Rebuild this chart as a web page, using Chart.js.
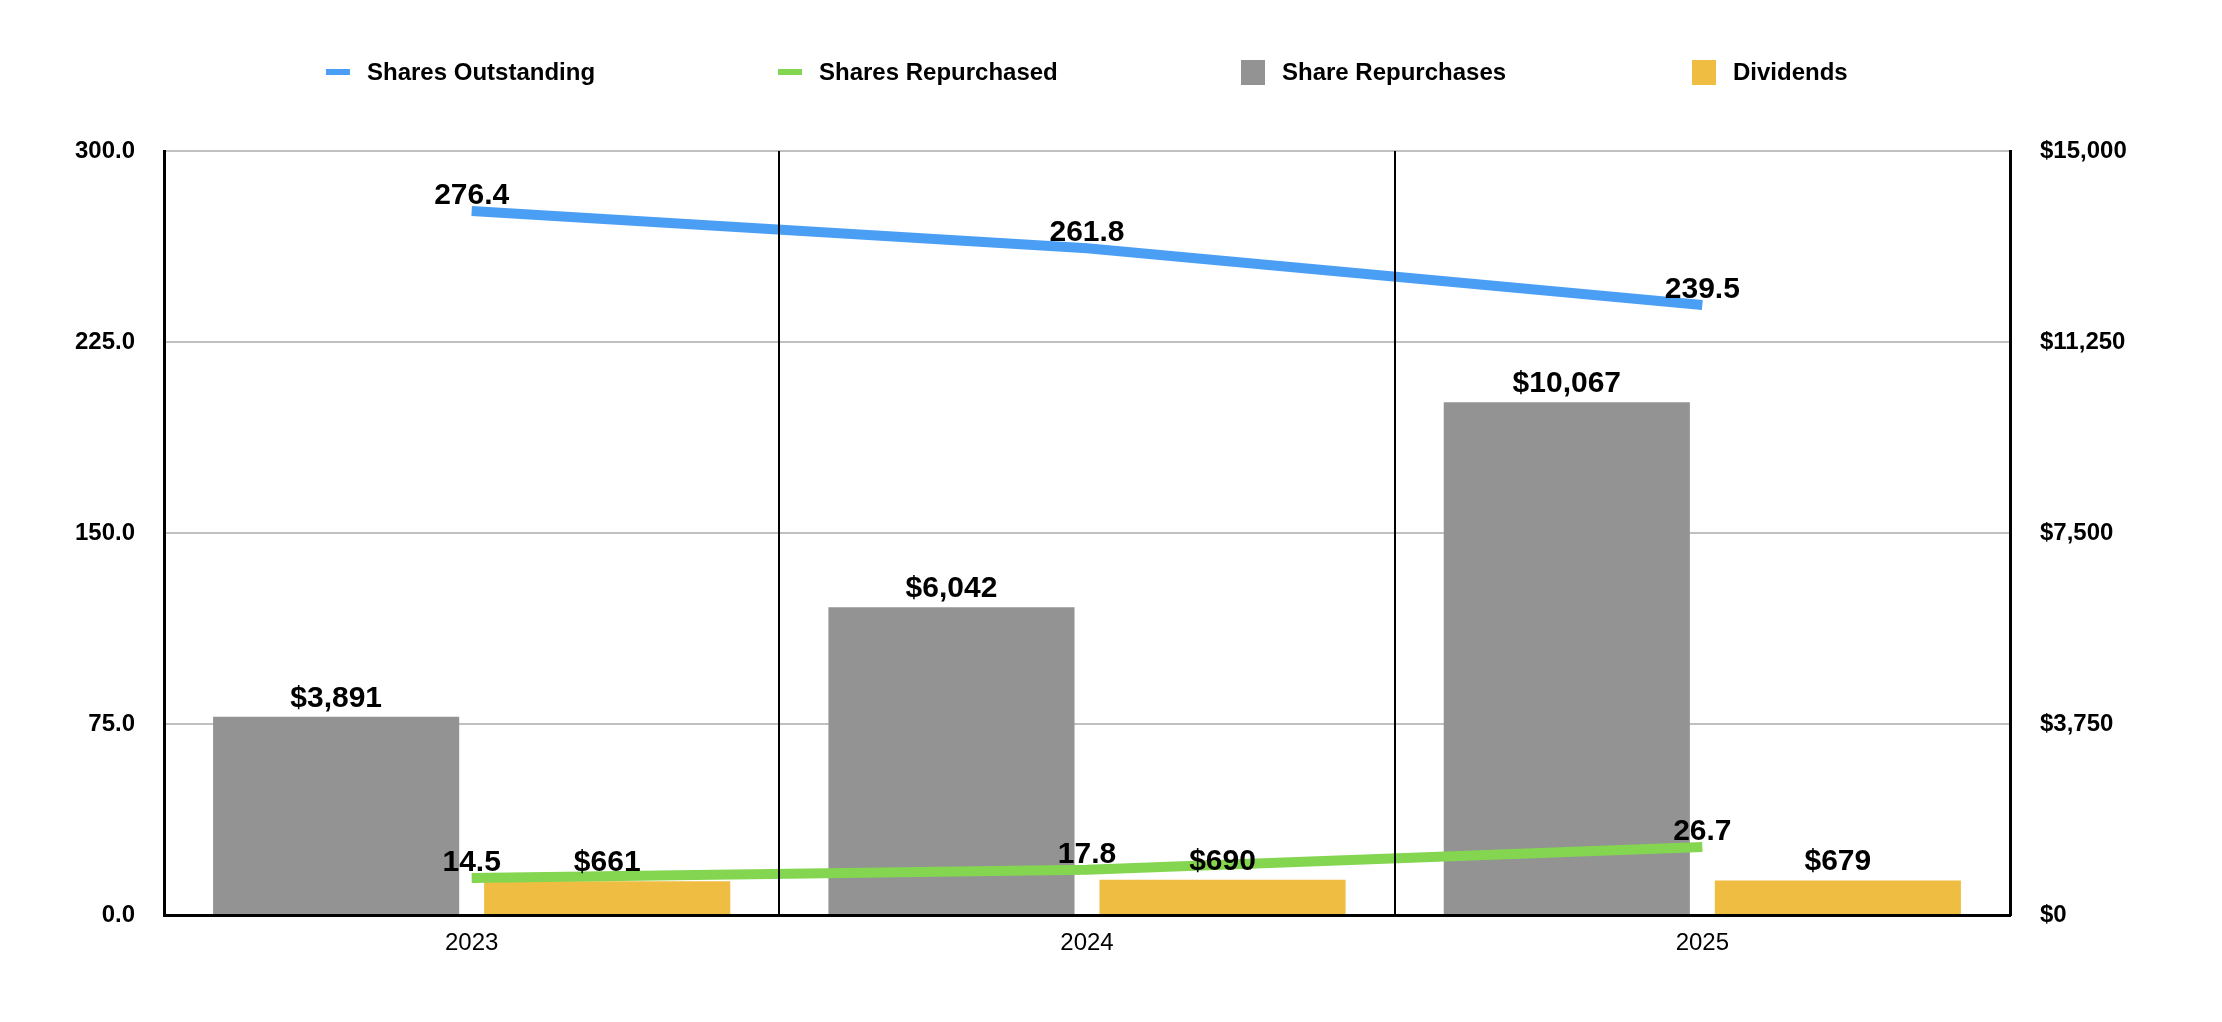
<!DOCTYPE html>
<html>
<head>
<meta charset="utf-8">
<title>Shares Outstanding, Buybacks and Dividends</title>
<script src="https://cdn.jsdelivr.net/npm/chart.js@4.4.1/dist/chart.umd.min.js"></script>
<style>
  html, body { margin: 0; padding: 0; background: #fff; }
  .wrap { position: relative; width: 2222px; height: 1022px; }
  #chart { position: absolute; left: 0; top: 0; }
  .legend { position: absolute; left: 0; top: 0; width: 2222px; height: 140px;
            font: bold 24px "Liberation Sans", Arial, sans-serif; color: #000; }
  .legend .item { position: absolute; top: 72px; transform: translateY(-50%);
                  display: flex; align-items: center; white-space: nowrap; }
  .legend .item:nth-child(1) { left: 326px; }
  .legend .item:nth-child(2) { left: 778px; }
  .legend .item:nth-child(3) { left: 1241px; }
  .legend .item:nth-child(4) { left: 1692px; }
  .legend .swatch { width: 24px; margin-right: 17px; }
  .legend .swatch.line { height: 6px; }
  .legend .swatch.box { height: 25px; }
</style>
</head>
<body>
<div class="wrap">
  <canvas id="chart"></canvas>
  <div class="legend" id="legend"></div>
</div>
<script>
// ===== DATA =====
const years = ['2023', '2024', '2025'];
const sharesOutstanding = [276.4, 261.8, 239.5];   // millions, left axis
const sharesRepurchased = [14.5, 17.8, 26.7];      // millions, left axis
const shareRepurchases = [3891, 6042, 10067];      // $M, right axis
const dividends = [661, 690, 679];                 // $M, right axis
const shareTicks = [0, 75, 150, 225, 300];
const dollarTicks = [0, 3750, 7500, 11250, 15000];

const FONT = '"Liberation Sans", Arial, sans-serif';
const fmtShares = v => v.toFixed(1);
const fmtDollars = v => '$' + v.toLocaleString('en-US');

Chart.defaults.font.family = FONT;
Chart.defaults.color = '#000';

// ===== VALUE LABELS above points / bars =====
const valueLabels = {
  id: 'valueLabels',
  afterDatasetsDraw(chart) {
    const ctx = chart.ctx;
    ctx.save();
    ctx.font = 'bold 30px ' + FONT;
    ctx.fillStyle = '#000';
    ctx.textAlign = 'center';
    ctx.textBaseline = 'alphabetic';
    chart.data.datasets.forEach((ds, i) => {
      const meta = chart.getDatasetMeta(i);
      const gap = ds.type === 'line' ? 7 : 10;
      meta.data.forEach((el, j) => {
        ctx.fillText(ds.fmt(ds.data[j]), el.x, el.y - gap);
      });
    });
    ctx.restore();
  }
};

const datasets = [
  {
    type: 'line', label: 'Shares Outstanding', data: sharesOutstanding, yAxisID: 'y',
    borderColor: '#4a9ff5', backgroundColor: '#4a9ff5', borderWidth: 10,
    borderCapStyle: 'butt', pointRadius: 0, tension: 0, fmt: fmtShares, swatch: 'line'
  },
  {
    type: 'line', label: 'Shares Repurchased', data: sharesRepurchased, yAxisID: 'y',
    borderColor: '#84d651', backgroundColor: '#84d651', borderWidth: 10,
    borderCapStyle: 'butt', pointRadius: 0, tension: 0, fmt: fmtShares, swatch: 'line'
  },
  {
    type: 'bar', label: 'Share Repurchases', data: shareRepurchases, yAxisID: 'y1',
    backgroundColor: '#939393', fmt: fmtDollars, swatch: 'box',
    categoryPercentage: 0.881, barPercentage: 0.908
  },
  {
    type: 'bar', label: 'Dividends', data: dividends, yAxisID: 'y1',
    backgroundColor: '#efbd41', fmt: fmtDollars, swatch: 'box',
    categoryPercentage: 0.881, barPercentage: 0.908
  }
];

new Chart(document.getElementById('chart'), {
  type: 'bar',
  data: { labels: years, datasets: datasets },
  options: {
    responsive: true, maintainAspectRatio: false, animation: false,
    layout: { padding: { top: 151, left: 73, right: 92, bottom: 0 } },
    plugins: { legend: { display: false }, tooltip: { enabled: false } },
    scales: {
      x: {
        grid: { color: '#000', lineWidth: 2, drawTicks: false, z: 1 },
        border: { color: '#000', width: 3, z: 1 },
        ticks: { font: { size: 24 }, color: '#000', padding: 14 },
        afterFit: s => { s.height = 107; }
      },
      y: {
        position: 'left', min: 0, max: 300,
        grid: { color: '#c0c0c0', lineWidth: 2, drawTicks: false },
        border: { color: '#000', width: 3 },
        ticks: { font: { size: 24, weight: 'bold' }, color: '#000', padding: 29, callback: v => fmtShares(v) },
        afterBuildTicks: s => { s.ticks = shareTicks.map(v => ({ value: v })); },
        afterFit: s => { s.width = 91; }
      },
      y1: {
        position: 'right', min: 0, max: 15000,
        grid: { display: false, drawTicks: false },
        border: { color: '#000', width: 3 },
        ticks: { font: { size: 24, weight: 'bold' }, color: '#000', padding: 30, callback: v => fmtDollars(v) },
        afterBuildTicks: s => { s.ticks = dollarTicks.map(v => ({ value: v })); },
        afterFit: s => { s.width = 120; }
      }
    }
  },
  plugins: [valueLabels]
});

// ===== HTML LEGEND =====
const legendEl = document.getElementById('legend');
datasets.forEach(ds => {
  const item = document.createElement('div');
  item.className = 'item';
  const sw = document.createElement('span');
  sw.className = 'swatch ' + ds.swatch;
  sw.style.background = ds.backgroundColor;
  const txt = document.createElement('span');
  txt.textContent = ds.label;
  item.appendChild(sw);
  item.appendChild(txt);
  legendEl.appendChild(item);
});
</script>
</body>
</html>
